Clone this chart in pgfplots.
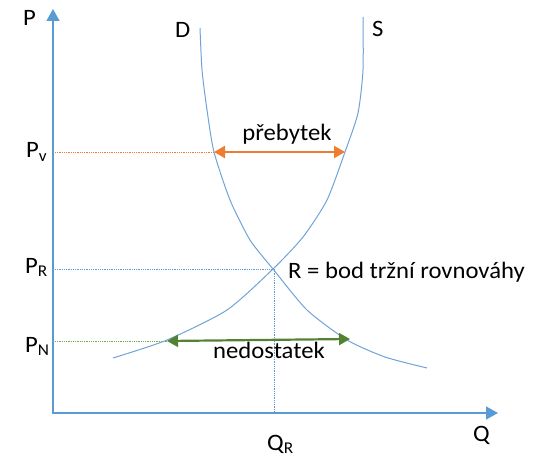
\documentclass[border=0pt]{standalone}
\usepackage{pgfplots}
\pgfplotsset{compat=1.18}
\usetikzlibrary{arrows.meta}
\usepackage{fontspec}
\setmainfont[FakeStretch=1.05]{Carlito}
\definecolor{axblue}{HTML}{5B9BD5}
\definecolor{curveblue}{HTML}{6FA3D8}
\definecolor{oran}{HTML}{ED7D31}
\definecolor{dgreen}{HTML}{548235}
\definecolor{lgreen}{HTML}{70AD47}
\newcommand\lf{\fontsize{23.5bp}{27bp}\selectfont}
\begin{document}
\begin{tikzpicture}
\begin{axis}[x=1bp, y=1bp, xmin=0, xmax=540, ymin=0, ymax=458, y dir=reverse,
  hide axis, clip=false]
\addplot[draw=none] coordinates {(0,0) (540,458)};
% axes
\addplot[axblue, line width=1.5bp, -{Triangle[length=12bp,width=13bp]}] coordinates {(53,413) (53,9)};
\addplot[axblue, line width=1.5bp, -{Triangle[length=12bp,width=13bp]}] coordinates {(52,413) (498,413)};
% dotted guides
\addplot[oran, line width=0.8bp, densely dotted] coordinates {(55,152) (214,152)};
\addplot[axblue, line width=0.8bp, densely dotted] coordinates {(55,269) (273,269)};
\addplot[axblue, line width=0.8bp, densely dotted] coordinates {(274,269) (274,412)};
\addplot[lgreen, line width=0.8bp, densely dotted] coordinates {(55,341) (167,341)};
% curves
\addplot[curveblue, line width=1bp, smooth, tension=0.4] coordinates {
 (200,28) (202,70) (207,110) (214,152) (230,200) (250,240) (273,269) (307,310) (347,340) (385,357) (427,368)};
\addplot[curveblue, line width=1bp, smooth, tension=0.4] coordinates {
 (363,17) (363,70) (358,113) (345,152) (327,200) (303,237) (273,269) (227,310) (167,340) (113,358)};
% arrows
\addplot[oran, line width=2.2bp, {Triangle[length=11bp,width=12bp]}-{Triangle[length=11bp,width=12bp]}] coordinates {(214,152) (345,152)};
\addplot[dgreen, line width=2.2bp, {Triangle[length=11bp,width=12bp]}-{Triangle[length=11bp,width=12bp]}] coordinates {(167,341) (350,339)};
% labels
\node[anchor=base west, font=\lf, inner sep=0pt] at (axis cs:23,26) {P};
\node[anchor=base west, font=\lf, inner sep=0pt] at (axis cs:26,158) {P\textsubscript{v}};
\node[anchor=base west, font=\lf, inner sep=0pt] at (axis cs:25,273) {P\textsubscript{R}};
\node[anchor=base west, font=\lf, inner sep=0pt] at (axis cs:25,352) {P\textsubscript{N}};
\node[anchor=base west, font=\lf, inner sep=0pt] at (axis cs:267,450) {Q\textsubscript{R}};
\node[anchor=base west, font=\lf, inner sep=0pt] at (axis cs:473,441) {Q};
\node[anchor=base west, font=\lf, inner sep=0pt] at (axis cs:175,38) {D};
\node[anchor=base west, font=\lf, inner sep=0pt] at (axis cs:372,37) {S};
\node[anchor=base, font=\lf, inner sep=0pt] at (axis cs:287,141) {přebytek};
\node[anchor=base, font=\lf, inner sep=0pt] at (axis cs:269,358) {nedostatek};
\node[anchor=base west, font=\lf, inner sep=0pt] at (axis cs:288,278) {R = bod tržní rovnováhy};
\end{axis}
\end{tikzpicture}
\end{document}
